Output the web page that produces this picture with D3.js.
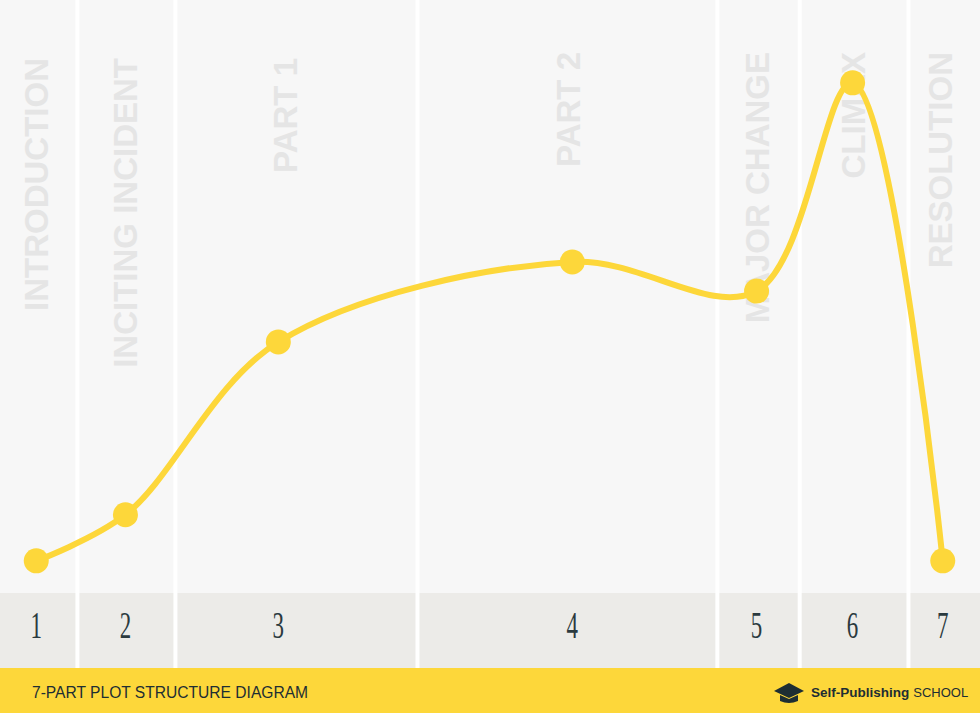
<!DOCTYPE html>
<html><head><meta charset="utf-8">
<script src="https://cdn.jsdelivr.net/npm/d3@7"></script>
<style>body{margin:0;background:#f7f7f7;overflow:hidden}</style>
</head><body><div id="chart"></div>
<script>
// story progress (%) where each part starts/ends
var edges = [0, 7.9, 17.9, 42.6, 73.2, 81.6, 92.7, 100];
var parts = ["INTRODUCTION", "INCITING INCIDENT", "PART 1", "PART 2", "MAJOR CHANGE", "CLIMAX", "RESOLUTION"];
var numbers = ["1", "2", "3", "4", "5", "6", "7"];
var pointX = [3.7, 12.8, 28.4, 58.4, 77.2, 87.0, 96.2];
var tension = [5.5, 14.2, 46.8, 61.9, 56.4, 95.7, 5.5];

var W = 980, H = 713;
var svg = d3.select("#chart").append("svg").attr("width", W).attr("height", H);

var x = d3.scaleLinear().domain([0, 100]).range([0, W]);
var y = d3.scaleLinear().domain([0, 100]).range([590, 60]);

svg.append("rect").attr("width", W).attr("height", 593).attr("fill", "#f7f7f7");
svg.append("rect").attr("y", 593).attr("width", W).attr("height", 75).attr("fill", "#ecebe8");

// column labels
var labelX = [36, 125, 285, 568, 757, 853, 940];
var labelTop = [58, 58, 58, 52, 52, 52, 52];
parts.forEach(function(p, i) {
    svg.append("text")
      .attr("transform", "translate(" + (labelX[i] + 12) + "," + labelTop[i] + ") rotate(-90)")
      .attr("text-anchor", "end")
      .attr("font-family", "Liberation Sans, Arial, sans-serif")
      .attr("font-weight", "bold")
      .attr("font-size", "33px")
      .attr("fill", "#e5e5e5")
      .text(p);
});

// separators
svg.selectAll("line.sep").data(edges.slice(1, -1)).enter()
    .append("line")
    .attr("x1", function(d) { return x(d); })
    .attr("x2", function(d) { return x(d); })
    .attr("y1", 0).attr("y2", 668)
    .attr("stroke", "#ffffff").attr("stroke-width", 4);

// numbers
numbers.forEach(function(n, i) {
    var cx = x(pointX[i]);
    svg.append("text")
      .attr("transform", "translate(" + cx + ",638) scale(0.62,1)")
      .attr("text-anchor", "middle")
      .attr("font-family", "Liberation Serif, serif")
      .attr("font-size", "37px")
      .attr("fill", "#2b3a3f")
      .text(n);
});

var pts = pointX.map(function(d, i) { return [x(d), y(tension[i])]; });
var line = d3.line().curve(d3.curveCatmullRom.alpha(0.5));
svg.append("path").attr("d", line(pts))
    .attr("fill", "none").attr("stroke", "#fdd73a").attr("stroke-width", 6);
svg.selectAll("circle").data(pts).enter().append("circle")
    .attr("cx", function(d) { return d[0]; })
    .attr("cy", function(d) { return d[1]; })
    .attr("r", 12.5).attr("fill", "#fdd73a");

// footer
svg.append("rect").attr("y", 668).attr("width", W).attr("height", 45).attr("fill", "#fdd73a");
svg.append("text").attr("x", 32).attr("y", 698)
    .attr("font-family", "Liberation Sans, Arial, sans-serif").attr("font-size", "15.6px")
    .attr("fill", "#1e2e33").text("7-PART PLOT STRUCTURE DIAGRAM");
svg.append("path").attr("d", "M774,691 L789,683 L804,691 L789,698 Z M780,695 L780,701 Q789,705 798,701 L798,695 L789,699 Z")
    .attr("fill", "#1e2e33");
var t = svg.append("text").attr("x", 811).attr("y", 697)
    .attr("font-family", "Liberation Sans, Arial, sans-serif").attr("font-size", "13.5px").attr("fill", "#1e2e33");
t.append("tspan").attr("font-weight", "bold").text("Self-Publishing");
t.append("tspan").attr("dx", 4).attr("font-size", "13px").text("SCHOOL");
</script>
</body></html>
